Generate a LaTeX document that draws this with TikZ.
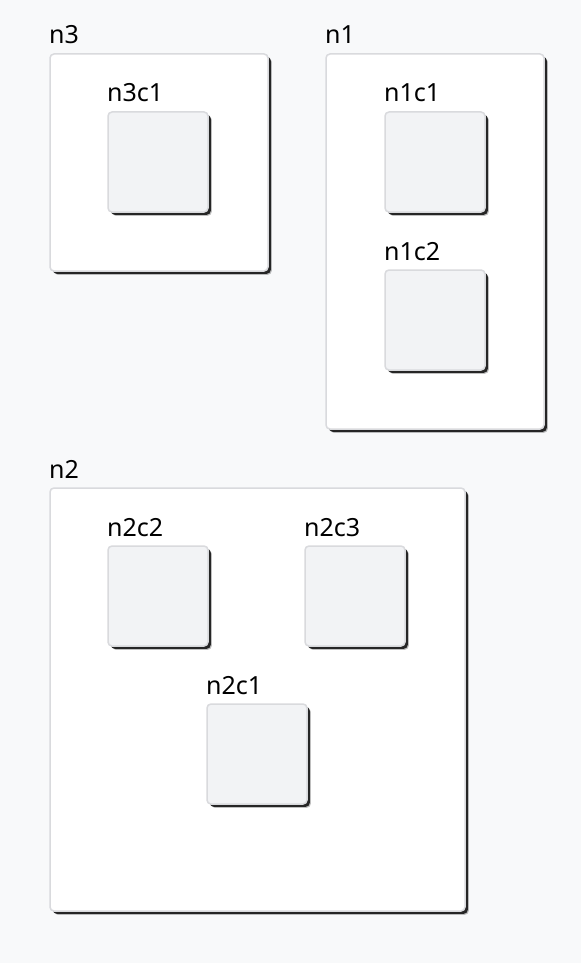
\documentclass[tikz,border=0pt]{standalone}
\usepackage{fontspec}
\setmainfont{Noto Sans}
\definecolor{bg}{HTML}{F8F9FA}
\definecolor{bordergray}{HTML}{D9DADD}
\definecolor{innerfill}{HTML}{F2F3F5}
\tikzset{
  boxshadow/.style={
    preaction={fill=black, opacity=0.25, transform canvas={shift={(3.8pt,-3.8pt)}}},
    preaction={fill=black, opacity=0.8, transform canvas={shift={(2.8pt,-2.8pt)}}}},
  outerbox/.style={draw=bordergray, line width=1.5pt, fill=white, rounded corners=4pt, boxshadow},
  innerbox/.style={draw=bordergray, line width=1.5pt, fill=innerfill, rounded corners=4pt, boxshadow},
  lbl/.style={anchor=base west, inner sep=0pt, font=\fontsize{25}{30}\selectfont}
}
\begin{document}
\begin{tikzpicture}[x=1pt,y=-1pt]
\fill[bg] (0,0) rectangle (581,963);
\useasboundingbox (0,0) rectangle (581,963);
% n3
\node[lbl] (n3l) at (49,44) {n3};
\draw[outerbox] (50,54) rectangle (268,271);
\node[lbl] (n3c1l) at (107,102) {n3c1};
\draw[innerbox] (108,112) rectangle (208,212);
% n1
\node[lbl] (n1l) at (325,44) {n1};
\draw[outerbox] (326,54) rectangle (544,429);
\node[lbl] (n1c1l) at (384,102) {n1c1};
\draw[innerbox] (385,112) rectangle (485,212);
\node[lbl] (n1c2l) at (384,260) {n1c2};
\draw[innerbox] (385,270) rectangle (485,370);
% n2
\node[lbl] (n2l) at (49,478) {n2};
\draw[outerbox] (50,488) rectangle (465,911);
\node[lbl] (n2c2l) at (107,536) {n2c2};
\draw[innerbox] (108,546) rectangle (208,646);
\node[lbl] (n2c3l) at (304,536) {n2c3};
\draw[innerbox] (305,546) rectangle (405,646);
\node[lbl] (n2c1l) at (206,694) {n2c1};
\draw[innerbox] (207,704) rectangle (307,804);
\end{tikzpicture}
\end{document}
